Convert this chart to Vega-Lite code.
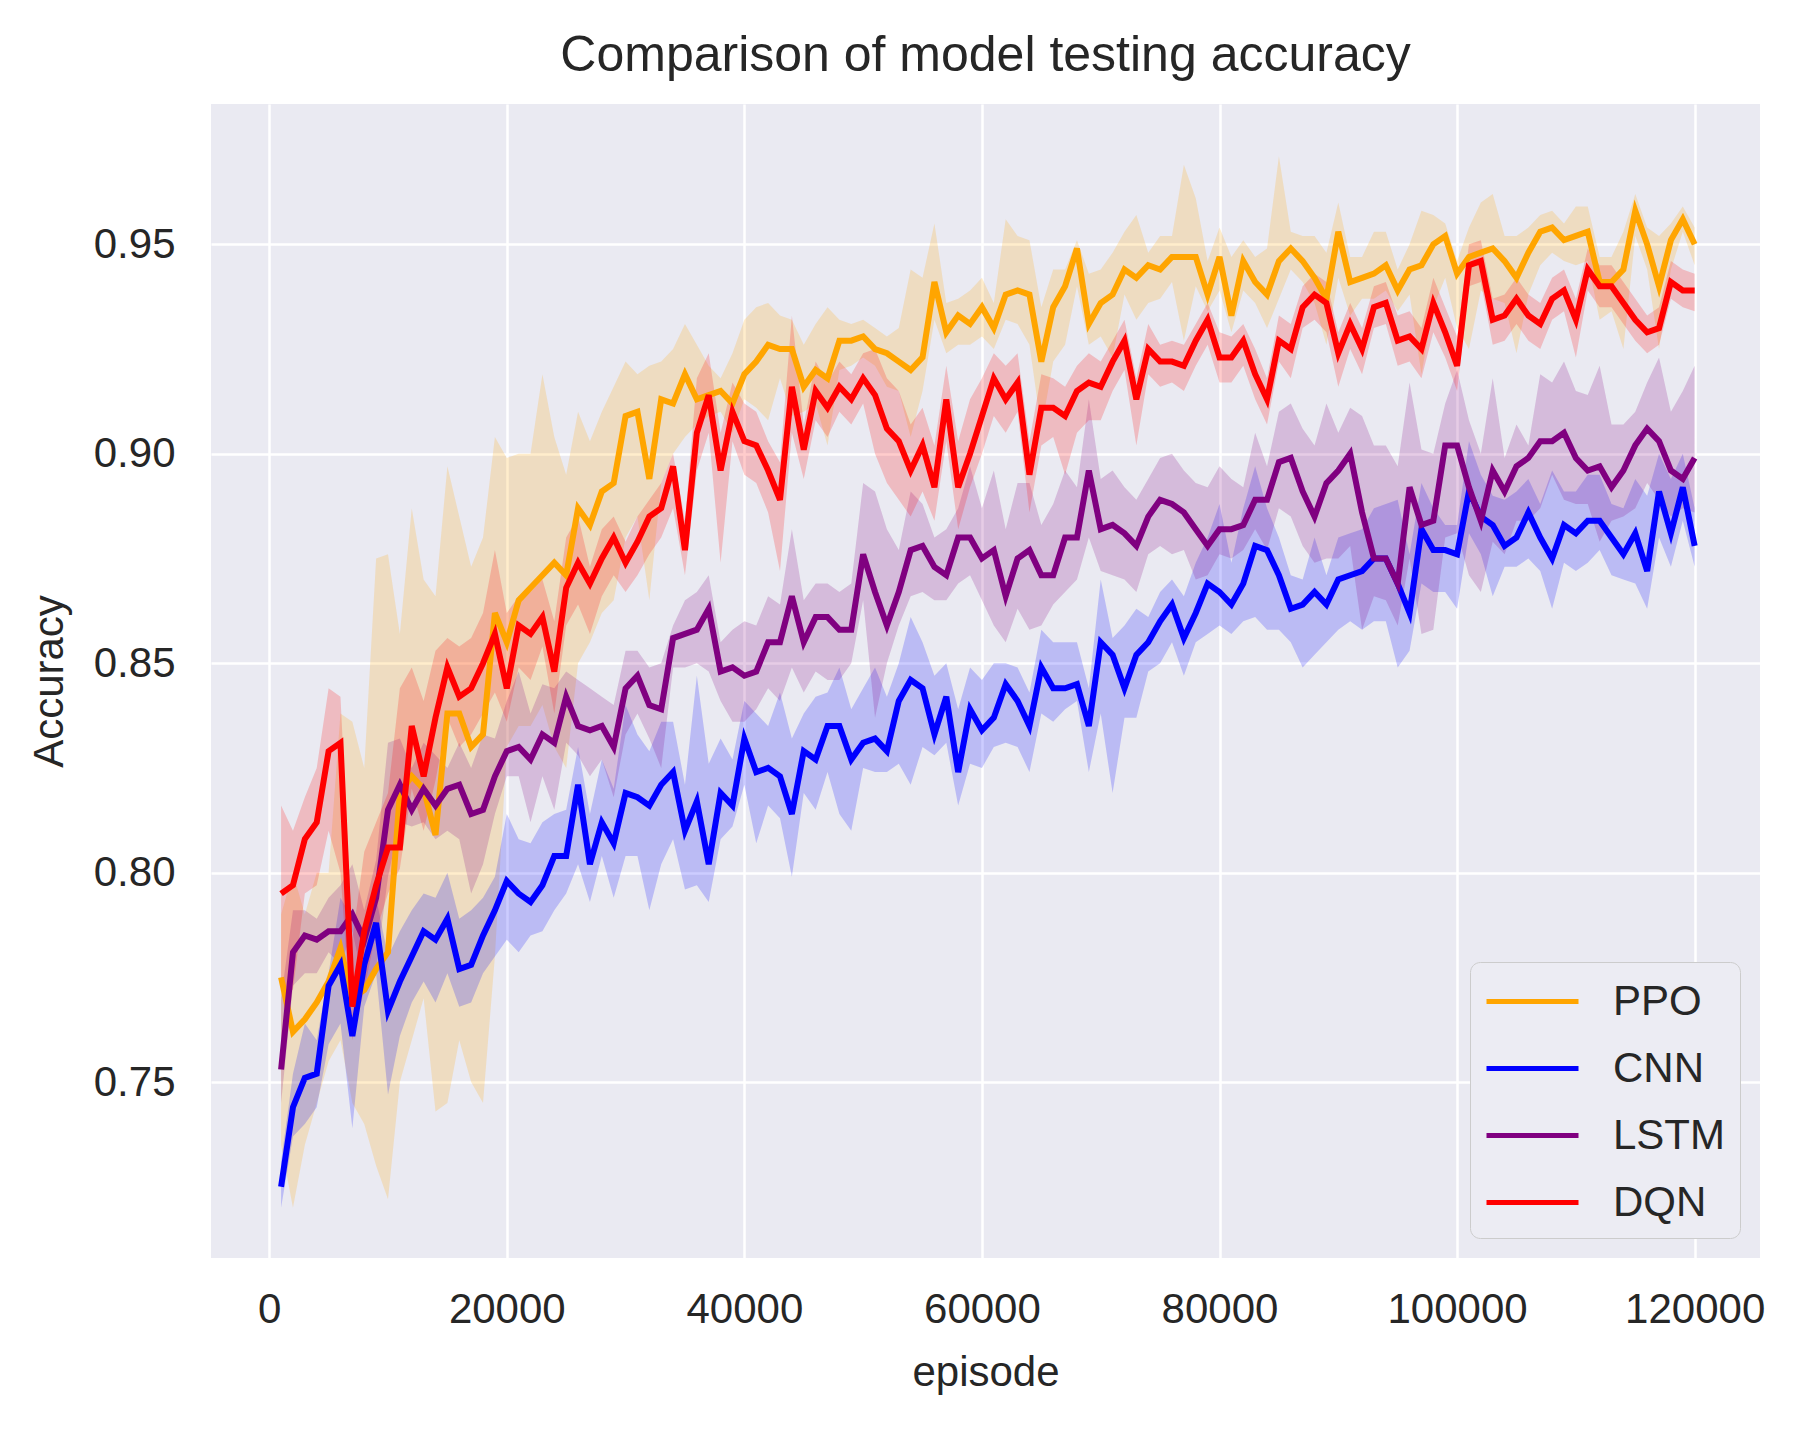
{
"$schema":"https://vega.github.io/schema/vega-lite/v6.json",
"width":1549,"height":1154,
"autosize":{"type":"none"},
"padding":{"left":211,"top":104,"right":37,"bottom":172},
"background":"white",
"title":{"text":"Comparison of model testing accuracy","font":"Liberation Sans","fontSize":50,"fontWeight":"normal","color":"#262626","anchor":"middle","baseline":"alphabetic","offset":-17},
"config":{
"view":{"fill":"#EAEAF2","stroke":null},
"axis":{"domain":false,"ticks":false,"tickSize":0,"gridColor":"#FFFFFF","gridWidth":2.5,"gridOpacity":1,"labelFont":"Liberation Sans","labelFontSize":42,"labelColor":"#262626","titleFont":"Liberation Sans","titleFontSize":42,"titleFontWeight":"normal","titleColor":"#262626"}
},
"datasets":{"d":[
{"e":1000,"m":"PPO","y":0.775,"lo":0.735,"hi":0.790},
{"e":2000,"m":"PPO","y":0.762,"lo":0.720,"hi":0.800},
{"e":3000,"m":"PPO","y":0.765,"lo":0.735,"hi":0.790},
{"e":4000,"m":"PPO","y":0.769,"lo":0.745,"hi":0.800},
{"e":5000,"m":"PPO","y":0.774,"lo":0.755,"hi":0.800},
{"e":6000,"m":"PPO","y":0.782,"lo":0.760,"hi":0.838},
{"e":7000,"m":"PPO","y":0.770,"lo":0.745,"hi":0.836},
{"e":8000,"m":"PPO","y":0.772,"lo":0.740,"hi":0.825},
{"e":9000,"m":"PPO","y":0.777,"lo":0.730,"hi":0.875},
{"e":10000,"m":"PPO","y":0.781,"lo":0.722,"hi":0.876},
{"e":11000,"m":"PPO","y":0.819,"lo":0.750,"hi":0.857},
{"e":12000,"m":"PPO","y":0.823,"lo":0.760,"hi":0.887},
{"e":13000,"m":"PPO","y":0.820,"lo":0.770,"hi":0.870},
{"e":14000,"m":"PPO","y":0.809,"lo":0.743,"hi":0.866},
{"e":15000,"m":"PPO","y":0.838,"lo":0.745,"hi":0.897},
{"e":16000,"m":"PPO","y":0.838,"lo":0.760,"hi":0.885},
{"e":17000,"m":"PPO","y":0.830,"lo":0.750,"hi":0.873},
{"e":18000,"m":"PPO","y":0.833,"lo":0.745,"hi":0.880},
{"e":19000,"m":"PPO","y":0.862,"lo":0.780,"hi":0.904},
{"e":20000,"m":"PPO","y":0.855,"lo":0.830,"hi":0.899},
{"e":21000,"m":"PPO","y":0.865,"lo":0.835,"hi":0.900},
{"e":22000,"m":"PPO","y":0.868,"lo":0.835,"hi":0.900},
{"e":23000,"m":"PPO","y":0.871,"lo":0.840,"hi":0.919},
{"e":24000,"m":"PPO","y":0.874,"lo":0.830,"hi":0.904},
{"e":25000,"m":"PPO","y":0.871,"lo":0.825,"hi":0.895},
{"e":26000,"m":"PPO","y":0.887,"lo":0.850,"hi":0.910},
{"e":27000,"m":"PPO","y":0.883,"lo":0.855,"hi":0.903},
{"e":28000,"m":"PPO","y":0.891,"lo":0.862,"hi":0.910},
{"e":29000,"m":"PPO","y":0.893,"lo":0.865,"hi":0.916},
{"e":30000,"m":"PPO","y":0.909,"lo":0.880,"hi":0.922},
{"e":31000,"m":"PPO","y":0.910,"lo":0.885,"hi":0.919},
{"e":32000,"m":"PPO","y":0.894,"lo":0.865,"hi":0.921},
{"e":33000,"m":"PPO","y":0.913,"lo":0.893,"hi":0.922},
{"e":34000,"m":"PPO","y":0.912,"lo":0.900,"hi":0.925},
{"e":35000,"m":"PPO","y":0.919,"lo":0.904,"hi":0.931},
{"e":36000,"m":"PPO","y":0.913,"lo":0.907,"hi":0.926},
{"e":37000,"m":"PPO","y":0.914,"lo":0.909,"hi":0.921},
{"e":38000,"m":"PPO","y":0.915,"lo":0.910,"hi":0.918},
{"e":39000,"m":"PPO","y":0.912,"lo":0.905,"hi":0.924},
{"e":40000,"m":"PPO","y":0.919,"lo":0.913,"hi":0.932},
{"e":41000,"m":"PPO","y":0.922,"lo":0.911,"hi":0.935},
{"e":42000,"m":"PPO","y":0.926,"lo":0.908,"hi":0.936},
{"e":43000,"m":"PPO","y":0.925,"lo":0.918,"hi":0.933},
{"e":44000,"m":"PPO","y":0.925,"lo":0.909,"hi":0.932},
{"e":45000,"m":"PPO","y":0.916,"lo":0.910,"hi":0.926},
{"e":46000,"m":"PPO","y":0.920,"lo":0.912,"hi":0.931},
{"e":47000,"m":"PPO","y":0.918,"lo":0.902,"hi":0.935},
{"e":48000,"m":"PPO","y":0.927,"lo":0.920,"hi":0.932},
{"e":49000,"m":"PPO","y":0.927,"lo":0.921,"hi":0.931},
{"e":50000,"m":"PPO","y":0.928,"lo":0.923,"hi":0.932},
{"e":51000,"m":"PPO","y":0.925,"lo":0.921,"hi":0.930},
{"e":52000,"m":"PPO","y":0.924,"lo":0.916,"hi":0.928},
{"e":53000,"m":"PPO","y":0.922,"lo":0.915,"hi":0.930},
{"e":54000,"m":"PPO","y":0.920,"lo":0.904,"hi":0.944},
{"e":55000,"m":"PPO","y":0.923,"lo":0.915,"hi":0.942},
{"e":56000,"m":"PPO","y":0.941,"lo":0.932,"hi":0.955},
{"e":57000,"m":"PPO","y":0.929,"lo":0.924,"hi":0.936},
{"e":58000,"m":"PPO","y":0.933,"lo":0.926,"hi":0.937},
{"e":59000,"m":"PPO","y":0.931,"lo":0.926,"hi":0.939},
{"e":60000,"m":"PPO","y":0.935,"lo":0.928,"hi":0.942},
{"e":61000,"m":"PPO","y":0.930,"lo":0.925,"hi":0.936},
{"e":62000,"m":"PPO","y":0.938,"lo":0.932,"hi":0.956},
{"e":63000,"m":"PPO","y":0.939,"lo":0.931,"hi":0.952},
{"e":64000,"m":"PPO","y":0.938,"lo":0.926,"hi":0.951},
{"e":65000,"m":"PPO","y":0.922,"lo":0.906,"hi":0.935},
{"e":66000,"m":"PPO","y":0.935,"lo":0.922,"hi":0.944},
{"e":67000,"m":"PPO","y":0.940,"lo":0.926,"hi":0.944},
{"e":68000,"m":"PPO","y":0.949,"lo":0.940,"hi":0.951},
{"e":69000,"m":"PPO","y":0.931,"lo":0.926,"hi":0.943},
{"e":70000,"m":"PPO","y":0.936,"lo":0.928,"hi":0.944},
{"e":71000,"m":"PPO","y":0.938,"lo":0.923,"hi":0.948},
{"e":72000,"m":"PPO","y":0.944,"lo":0.938,"hi":0.953},
{"e":73000,"m":"PPO","y":0.942,"lo":0.932,"hi":0.957},
{"e":74000,"m":"PPO","y":0.945,"lo":0.936,"hi":0.948},
{"e":75000,"m":"PPO","y":0.944,"lo":0.937,"hi":0.952},
{"e":76000,"m":"PPO","y":0.947,"lo":0.941,"hi":0.952},
{"e":77000,"m":"PPO","y":0.947,"lo":0.927,"hi":0.969},
{"e":78000,"m":"PPO","y":0.947,"lo":0.940,"hi":0.961},
{"e":79000,"m":"PPO","y":0.938,"lo":0.934,"hi":0.946},
{"e":80000,"m":"PPO","y":0.947,"lo":0.939,"hi":0.954},
{"e":81000,"m":"PPO","y":0.933,"lo":0.929,"hi":0.947},
{"e":82000,"m":"PPO","y":0.946,"lo":0.939,"hi":0.951},
{"e":83000,"m":"PPO","y":0.941,"lo":0.936,"hi":0.947},
{"e":84000,"m":"PPO","y":0.938,"lo":0.930,"hi":0.949},
{"e":85000,"m":"PPO","y":0.946,"lo":0.937,"hi":0.971},
{"e":86000,"m":"PPO","y":0.949,"lo":0.944,"hi":0.953},
{"e":87000,"m":"PPO","y":0.946,"lo":0.941,"hi":0.952},
{"e":88000,"m":"PPO","y":0.942,"lo":0.936,"hi":0.952},
{"e":89000,"m":"PPO","y":0.937,"lo":0.926,"hi":0.948},
{"e":90000,"m":"PPO","y":0.953,"lo":0.942,"hi":0.960},
{"e":91000,"m":"PPO","y":0.941,"lo":0.933,"hi":0.947},
{"e":92000,"m":"PPO","y":0.942,"lo":0.937,"hi":0.947},
{"e":93000,"m":"PPO","y":0.943,"lo":0.937,"hi":0.953},
{"e":94000,"m":"PPO","y":0.945,"lo":0.939,"hi":0.953},
{"e":95000,"m":"PPO","y":0.939,"lo":0.934,"hi":0.944},
{"e":96000,"m":"PPO","y":0.944,"lo":0.938,"hi":0.950},
{"e":97000,"m":"PPO","y":0.945,"lo":0.919,"hi":0.958},
{"e":98000,"m":"PPO","y":0.950,"lo":0.935,"hi":0.957},
{"e":99000,"m":"PPO","y":0.952,"lo":0.942,"hi":0.955},
{"e":100000,"m":"PPO","y":0.943,"lo":0.930,"hi":0.946},
{"e":101000,"m":"PPO","y":0.947,"lo":0.925,"hi":0.954},
{"e":102000,"m":"PPO","y":0.948,"lo":0.939,"hi":0.960},
{"e":103000,"m":"PPO","y":0.949,"lo":0.937,"hi":0.962},
{"e":104000,"m":"PPO","y":0.946,"lo":0.936,"hi":0.952},
{"e":105000,"m":"PPO","y":0.942,"lo":0.924,"hi":0.952},
{"e":106000,"m":"PPO","y":0.948,"lo":0.938,"hi":0.954},
{"e":107000,"m":"PPO","y":0.953,"lo":0.945,"hi":0.957},
{"e":108000,"m":"PPO","y":0.954,"lo":0.948,"hi":0.958},
{"e":109000,"m":"PPO","y":0.951,"lo":0.946,"hi":0.955},
{"e":110000,"m":"PPO","y":0.952,"lo":0.945,"hi":0.959},
{"e":111000,"m":"PPO","y":0.953,"lo":0.946,"hi":0.959},
{"e":112000,"m":"PPO","y":0.941,"lo":0.932,"hi":0.947},
{"e":113000,"m":"PPO","y":0.941,"lo":0.934,"hi":0.947},
{"e":114000,"m":"PPO","y":0.944,"lo":0.925,"hi":0.953},
{"e":115000,"m":"PPO","y":0.958,"lo":0.952,"hi":0.962},
{"e":116000,"m":"PPO","y":0.950,"lo":0.944,"hi":0.954},
{"e":117000,"m":"PPO","y":0.940,"lo":0.925,"hi":0.952},
{"e":118000,"m":"PPO","y":0.951,"lo":0.944,"hi":0.955},
{"e":119000,"m":"PPO","y":0.956,"lo":0.953,"hi":0.959},
{"e":120000,"m":"PPO","y":0.950,"lo":0.945,"hi":0.954},
{"e":1000,"m":"CNN","y":0.725,"lo":0.720,"hi":0.731},
{"e":2000,"m":"CNN","y":0.744,"lo":0.737,"hi":0.752},
{"e":3000,"m":"CNN","y":0.751,"lo":0.740,"hi":0.764},
{"e":4000,"m":"CNN","y":0.752,"lo":0.744,"hi":0.760},
{"e":5000,"m":"CNN","y":0.773,"lo":0.759,"hi":0.776},
{"e":6000,"m":"CNN","y":0.778,"lo":0.764,"hi":0.794},
{"e":7000,"m":"CNN","y":0.761,"lo":0.739,"hi":0.789},
{"e":8000,"m":"CNN","y":0.778,"lo":0.768,"hi":0.786},
{"e":9000,"m":"CNN","y":0.788,"lo":0.776,"hi":0.794},
{"e":10000,"m":"CNN","y":0.767,"lo":0.747,"hi":0.780},
{"e":11000,"m":"CNN","y":0.774,"lo":0.761,"hi":0.786},
{"e":12000,"m":"CNN","y":0.780,"lo":0.769,"hi":0.791},
{"e":13000,"m":"CNN","y":0.786,"lo":0.774,"hi":0.795},
{"e":14000,"m":"CNN","y":0.784,"lo":0.769,"hi":0.794},
{"e":15000,"m":"CNN","y":0.789,"lo":0.776,"hi":0.800},
{"e":16000,"m":"CNN","y":0.777,"lo":0.768,"hi":0.789},
{"e":17000,"m":"CNN","y":0.778,"lo":0.769,"hi":0.791},
{"e":18000,"m":"CNN","y":0.785,"lo":0.776,"hi":0.794},
{"e":19000,"m":"CNN","y":0.791,"lo":0.780,"hi":0.799},
{"e":20000,"m":"CNN","y":0.798,"lo":0.784,"hi":0.814},
{"e":21000,"m":"CNN","y":0.795,"lo":0.781,"hi":0.808},
{"e":22000,"m":"CNN","y":0.793,"lo":0.785,"hi":0.807},
{"e":23000,"m":"CNN","y":0.797,"lo":0.786,"hi":0.812},
{"e":24000,"m":"CNN","y":0.804,"lo":0.791,"hi":0.814},
{"e":25000,"m":"CNN","y":0.804,"lo":0.795,"hi":0.815},
{"e":26000,"m":"CNN","y":0.821,"lo":0.802,"hi":0.830},
{"e":27000,"m":"CNN","y":0.802,"lo":0.793,"hi":0.814},
{"e":28000,"m":"CNN","y":0.812,"lo":0.804,"hi":0.827},
{"e":29000,"m":"CNN","y":0.807,"lo":0.794,"hi":0.820},
{"e":30000,"m":"CNN","y":0.819,"lo":0.804,"hi":0.840},
{"e":31000,"m":"CNN","y":0.818,"lo":0.804,"hi":0.833},
{"e":32000,"m":"CNN","y":0.816,"lo":0.791,"hi":0.829},
{"e":33000,"m":"CNN","y":0.821,"lo":0.802,"hi":0.836},
{"e":34000,"m":"CNN","y":0.824,"lo":0.808,"hi":0.836},
{"e":35000,"m":"CNN","y":0.810,"lo":0.796,"hi":0.821},
{"e":36000,"m":"CNN","y":0.817,"lo":0.797,"hi":0.847},
{"e":37000,"m":"CNN","y":0.802,"lo":0.793,"hi":0.826},
{"e":38000,"m":"CNN","y":0.819,"lo":0.808,"hi":0.832},
{"e":39000,"m":"CNN","y":0.816,"lo":0.811,"hi":0.827},
{"e":40000,"m":"CNN","y":0.832,"lo":0.821,"hi":0.841},
{"e":41000,"m":"CNN","y":0.824,"lo":0.807,"hi":0.838},
{"e":42000,"m":"CNN","y":0.825,"lo":0.816,"hi":0.835},
{"e":43000,"m":"CNN","y":0.823,"lo":0.813,"hi":0.843},
{"e":44000,"m":"CNN","y":0.814,"lo":0.799,"hi":0.832},
{"e":45000,"m":"CNN","y":0.829,"lo":0.819,"hi":0.838},
{"e":46000,"m":"CNN","y":0.827,"lo":0.815,"hi":0.842},
{"e":47000,"m":"CNN","y":0.835,"lo":0.824,"hi":0.843},
{"e":48000,"m":"CNN","y":0.835,"lo":0.814,"hi":0.849},
{"e":49000,"m":"CNN","y":0.827,"lo":0.810,"hi":0.839},
{"e":50000,"m":"CNN","y":0.831,"lo":0.825,"hi":0.844},
{"e":51000,"m":"CNN","y":0.832,"lo":0.824,"hi":0.849},
{"e":52000,"m":"CNN","y":0.829,"lo":0.824,"hi":0.842},
{"e":53000,"m":"CNN","y":0.841,"lo":0.826,"hi":0.850},
{"e":54000,"m":"CNN","y":0.846,"lo":0.821,"hi":0.861},
{"e":55000,"m":"CNN","y":0.844,"lo":0.830,"hi":0.855},
{"e":56000,"m":"CNN","y":0.833,"lo":0.828,"hi":0.847},
{"e":57000,"m":"CNN","y":0.842,"lo":0.831,"hi":0.850},
{"e":58000,"m":"CNN","y":0.824,"lo":0.816,"hi":0.839},
{"e":59000,"m":"CNN","y":0.839,"lo":0.826,"hi":0.849},
{"e":60000,"m":"CNN","y":0.834,"lo":0.825,"hi":0.846},
{"e":61000,"m":"CNN","y":0.837,"lo":0.830,"hi":0.850},
{"e":62000,"m":"CNN","y":0.845,"lo":0.831,"hi":0.850},
{"e":63000,"m":"CNN","y":0.841,"lo":0.830,"hi":0.849},
{"e":64000,"m":"CNN","y":0.835,"lo":0.824,"hi":0.843},
{"e":65000,"m":"CNN","y":0.849,"lo":0.838,"hi":0.858},
{"e":66000,"m":"CNN","y":0.844,"lo":0.836,"hi":0.855},
{"e":67000,"m":"CNN","y":0.844,"lo":0.839,"hi":0.855},
{"e":68000,"m":"CNN","y":0.845,"lo":0.841,"hi":0.855},
{"e":69000,"m":"CNN","y":0.835,"lo":0.824,"hi":0.844},
{"e":70000,"m":"CNN","y":0.855,"lo":0.838,"hi":0.870},
{"e":71000,"m":"CNN","y":0.852,"lo":0.819,"hi":0.856},
{"e":72000,"m":"CNN","y":0.844,"lo":0.837,"hi":0.859},
{"e":73000,"m":"CNN","y":0.852,"lo":0.837,"hi":0.863},
{"e":74000,"m":"CNN","y":0.855,"lo":0.848,"hi":0.861},
{"e":75000,"m":"CNN","y":0.860,"lo":0.850,"hi":0.867},
{"e":76000,"m":"CNN","y":0.864,"lo":0.855,"hi":0.870},
{"e":77000,"m":"CNN","y":0.856,"lo":0.847,"hi":0.866},
{"e":78000,"m":"CNN","y":0.862,"lo":0.855,"hi":0.874},
{"e":79000,"m":"CNN","y":0.869,"lo":0.857,"hi":0.880},
{"e":80000,"m":"CNN","y":0.867,"lo":0.859,"hi":0.888},
{"e":81000,"m":"CNN","y":0.864,"lo":0.857,"hi":0.874},
{"e":82000,"m":"CNN","y":0.869,"lo":0.860,"hi":0.887},
{"e":83000,"m":"CNN","y":0.878,"lo":0.861,"hi":0.897},
{"e":84000,"m":"CNN","y":0.877,"lo":0.858,"hi":0.887},
{"e":85000,"m":"CNN","y":0.871,"lo":0.858,"hi":0.880},
{"e":86000,"m":"CNN","y":0.863,"lo":0.855,"hi":0.871},
{"e":87000,"m":"CNN","y":0.864,"lo":0.849,"hi":0.870},
{"e":88000,"m":"CNN","y":0.867,"lo":0.852,"hi":0.880},
{"e":89000,"m":"CNN","y":0.864,"lo":0.855,"hi":0.871},
{"e":90000,"m":"CNN","y":0.870,"lo":0.858,"hi":0.880},
{"e":91000,"m":"CNN","y":0.871,"lo":0.860,"hi":0.881},
{"e":92000,"m":"CNN","y":0.872,"lo":0.858,"hi":0.882},
{"e":93000,"m":"CNN","y":0.875,"lo":0.860,"hi":0.887},
{"e":94000,"m":"CNN","y":0.875,"lo":0.860,"hi":0.888},
{"e":95000,"m":"CNN","y":0.869,"lo":0.849,"hi":0.889},
{"e":96000,"m":"CNN","y":0.862,"lo":0.853,"hi":0.876},
{"e":97000,"m":"CNN","y":0.882,"lo":0.869,"hi":0.893},
{"e":98000,"m":"CNN","y":0.877,"lo":0.867,"hi":0.887},
{"e":99000,"m":"CNN","y":0.877,"lo":0.867,"hi":0.883},
{"e":100000,"m":"CNN","y":0.876,"lo":0.863,"hi":0.883},
{"e":101000,"m":"CNN","y":0.891,"lo":0.881,"hi":0.903},
{"e":102000,"m":"CNN","y":0.885,"lo":0.876,"hi":0.895},
{"e":103000,"m":"CNN","y":0.883,"lo":0.866,"hi":0.890},
{"e":104000,"m":"CNN","y":0.878,"lo":0.873,"hi":0.889},
{"e":105000,"m":"CNN","y":0.880,"lo":0.873,"hi":0.891},
{"e":106000,"m":"CNN","y":0.886,"lo":0.875,"hi":0.894},
{"e":107000,"m":"CNN","y":0.880,"lo":0.872,"hi":0.888},
{"e":108000,"m":"CNN","y":0.875,"lo":0.863,"hi":0.896},
{"e":109000,"m":"CNN","y":0.883,"lo":0.874,"hi":0.891},
{"e":110000,"m":"CNN","y":0.881,"lo":0.872,"hi":0.891},
{"e":111000,"m":"CNN","y":0.884,"lo":0.874,"hi":0.895},
{"e":112000,"m":"CNN","y":0.884,"lo":0.877,"hi":0.895},
{"e":113000,"m":"CNN","y":0.880,"lo":0.871,"hi":0.888},
{"e":114000,"m":"CNN","y":0.876,"lo":0.870,"hi":0.887},
{"e":115000,"m":"CNN","y":0.881,"lo":0.869,"hi":0.894},
{"e":116000,"m":"CNN","y":0.872,"lo":0.863,"hi":0.890},
{"e":117000,"m":"CNN","y":0.891,"lo":0.880,"hi":0.900},
{"e":118000,"m":"CNN","y":0.881,"lo":0.873,"hi":0.894},
{"e":119000,"m":"CNN","y":0.892,"lo":0.884,"hi":0.900},
{"e":120000,"m":"CNN","y":0.878,"lo":0.873,"hi":0.887},
{"e":1000,"m":"LSTM","y":0.753,"lo":0.745,"hi":0.770},
{"e":2000,"m":"LSTM","y":0.781,"lo":0.773,"hi":0.791},
{"e":3000,"m":"LSTM","y":0.785,"lo":0.776,"hi":0.791},
{"e":4000,"m":"LSTM","y":0.784,"lo":0.776,"hi":0.789},
{"e":5000,"m":"LSTM","y":0.786,"lo":0.781,"hi":0.794},
{"e":6000,"m":"LSTM","y":0.786,"lo":0.778,"hi":0.797},
{"e":7000,"m":"LSTM","y":0.790,"lo":0.786,"hi":0.802},
{"e":8000,"m":"LSTM","y":0.784,"lo":0.773,"hi":0.791},
{"e":9000,"m":"LSTM","y":0.794,"lo":0.777,"hi":0.803},
{"e":10000,"m":"LSTM","y":0.815,"lo":0.799,"hi":0.831},
{"e":11000,"m":"LSTM","y":0.821,"lo":0.812,"hi":0.832},
{"e":12000,"m":"LSTM","y":0.815,"lo":0.811,"hi":0.825},
{"e":13000,"m":"LSTM","y":0.820,"lo":0.812,"hi":0.831},
{"e":14000,"m":"LSTM","y":0.816,"lo":0.808,"hi":0.828},
{"e":15000,"m":"LSTM","y":0.820,"lo":0.810,"hi":0.825},
{"e":16000,"m":"LSTM","y":0.821,"lo":0.808,"hi":0.831},
{"e":17000,"m":"LSTM","y":0.814,"lo":0.795,"hi":0.825},
{"e":18000,"m":"LSTM","y":0.815,"lo":0.802,"hi":0.833},
{"e":19000,"m":"LSTM","y":0.823,"lo":0.814,"hi":0.832},
{"e":20000,"m":"LSTM","y":0.829,"lo":0.823,"hi":0.841},
{"e":21000,"m":"LSTM","y":0.830,"lo":0.823,"hi":0.848},
{"e":22000,"m":"LSTM","y":0.827,"lo":0.812,"hi":0.838},
{"e":23000,"m":"LSTM","y":0.833,"lo":0.823,"hi":0.845},
{"e":24000,"m":"LSTM","y":0.831,"lo":0.815,"hi":0.844},
{"e":25000,"m":"LSTM","y":0.842,"lo":0.831,"hi":0.848},
{"e":26000,"m":"LSTM","y":0.835,"lo":0.828,"hi":0.846},
{"e":27000,"m":"LSTM","y":0.834,"lo":0.823,"hi":0.844},
{"e":28000,"m":"LSTM","y":0.835,"lo":0.827,"hi":0.842},
{"e":29000,"m":"LSTM","y":0.830,"lo":0.818,"hi":0.840},
{"e":30000,"m":"LSTM","y":0.844,"lo":0.833,"hi":0.853},
{"e":31000,"m":"LSTM","y":0.847,"lo":0.838,"hi":0.853},
{"e":32000,"m":"LSTM","y":0.840,"lo":0.832,"hi":0.849},
{"e":33000,"m":"LSTM","y":0.839,"lo":0.825,"hi":0.850},
{"e":34000,"m":"LSTM","y":0.856,"lo":0.849,"hi":0.859},
{"e":35000,"m":"LSTM","y":0.857,"lo":0.849,"hi":0.865},
{"e":36000,"m":"LSTM","y":0.858,"lo":0.850,"hi":0.867},
{"e":37000,"m":"LSTM","y":0.863,"lo":0.848,"hi":0.871},
{"e":38000,"m":"LSTM","y":0.848,"lo":0.841,"hi":0.855},
{"e":39000,"m":"LSTM","y":0.849,"lo":0.836,"hi":0.858},
{"e":40000,"m":"LSTM","y":0.847,"lo":0.836,"hi":0.860},
{"e":41000,"m":"LSTM","y":0.848,"lo":0.839,"hi":0.859},
{"e":42000,"m":"LSTM","y":0.855,"lo":0.844,"hi":0.866},
{"e":43000,"m":"LSTM","y":0.855,"lo":0.841,"hi":0.864},
{"e":44000,"m":"LSTM","y":0.866,"lo":0.849,"hi":0.882},
{"e":45000,"m":"LSTM","y":0.855,"lo":0.843,"hi":0.865},
{"e":46000,"m":"LSTM","y":0.861,"lo":0.848,"hi":0.869},
{"e":47000,"m":"LSTM","y":0.861,"lo":0.846,"hi":0.869},
{"e":48000,"m":"LSTM","y":0.858,"lo":0.846,"hi":0.867},
{"e":49000,"m":"LSTM","y":0.858,"lo":0.850,"hi":0.869},
{"e":50000,"m":"LSTM","y":0.876,"lo":0.865,"hi":0.893},
{"e":51000,"m":"LSTM","y":0.867,"lo":0.837,"hi":0.891},
{"e":52000,"m":"LSTM","y":0.859,"lo":0.850,"hi":0.882},
{"e":53000,"m":"LSTM","y":0.867,"lo":0.859,"hi":0.877},
{"e":54000,"m":"LSTM","y":0.877,"lo":0.866,"hi":0.891},
{"e":55000,"m":"LSTM","y":0.878,"lo":0.867,"hi":0.888},
{"e":56000,"m":"LSTM","y":0.873,"lo":0.865,"hi":0.880},
{"e":57000,"m":"LSTM","y":0.871,"lo":0.865,"hi":0.882},
{"e":58000,"m":"LSTM","y":0.880,"lo":0.869,"hi":0.887},
{"e":59000,"m":"LSTM","y":0.880,"lo":0.871,"hi":0.897},
{"e":60000,"m":"LSTM","y":0.875,"lo":0.865,"hi":0.887},
{"e":61000,"m":"LSTM","y":0.877,"lo":0.859,"hi":0.896},
{"e":62000,"m":"LSTM","y":0.866,"lo":0.855,"hi":0.882},
{"e":63000,"m":"LSTM","y":0.875,"lo":0.863,"hi":0.893},
{"e":64000,"m":"LSTM","y":0.877,"lo":0.858,"hi":0.893},
{"e":65000,"m":"LSTM","y":0.871,"lo":0.859,"hi":0.883},
{"e":66000,"m":"LSTM","y":0.871,"lo":0.864,"hi":0.888},
{"e":67000,"m":"LSTM","y":0.880,"lo":0.867,"hi":0.896},
{"e":68000,"m":"LSTM","y":0.880,"lo":0.870,"hi":0.892},
{"e":69000,"m":"LSTM","y":0.896,"lo":0.880,"hi":0.913},
{"e":70000,"m":"LSTM","y":0.882,"lo":0.872,"hi":0.894},
{"e":71000,"m":"LSTM","y":0.883,"lo":0.871,"hi":0.896},
{"e":72000,"m":"LSTM","y":0.881,"lo":0.870,"hi":0.892},
{"e":73000,"m":"LSTM","y":0.878,"lo":0.867,"hi":0.889},
{"e":74000,"m":"LSTM","y":0.885,"lo":0.876,"hi":0.894},
{"e":75000,"m":"LSTM","y":0.889,"lo":0.878,"hi":0.899},
{"e":76000,"m":"LSTM","y":0.888,"lo":0.876,"hi":0.900},
{"e":77000,"m":"LSTM","y":0.886,"lo":0.877,"hi":0.896},
{"e":78000,"m":"LSTM","y":0.882,"lo":0.870,"hi":0.893},
{"e":79000,"m":"LSTM","y":0.878,"lo":0.871,"hi":0.892},
{"e":80000,"m":"LSTM","y":0.882,"lo":0.876,"hi":0.897},
{"e":81000,"m":"LSTM","y":0.882,"lo":0.875,"hi":0.894},
{"e":82000,"m":"LSTM","y":0.883,"lo":0.877,"hi":0.892},
{"e":83000,"m":"LSTM","y":0.889,"lo":0.882,"hi":0.905},
{"e":84000,"m":"LSTM","y":0.889,"lo":0.877,"hi":0.897},
{"e":85000,"m":"LSTM","y":0.898,"lo":0.887,"hi":0.910},
{"e":86000,"m":"LSTM","y":0.899,"lo":0.885,"hi":0.912},
{"e":87000,"m":"LSTM","y":0.891,"lo":0.878,"hi":0.906},
{"e":88000,"m":"LSTM","y":0.885,"lo":0.874,"hi":0.902},
{"e":89000,"m":"LSTM","y":0.893,"lo":0.875,"hi":0.912},
{"e":90000,"m":"LSTM","y":0.896,"lo":0.875,"hi":0.905},
{"e":91000,"m":"LSTM","y":0.900,"lo":0.878,"hi":0.911},
{"e":92000,"m":"LSTM","y":0.886,"lo":0.858,"hi":0.909},
{"e":93000,"m":"LSTM","y":0.875,"lo":0.866,"hi":0.902},
{"e":94000,"m":"LSTM","y":0.875,"lo":0.865,"hi":0.902},
{"e":95000,"m":"LSTM","y":0.869,"lo":0.859,"hi":0.897},
{"e":96000,"m":"LSTM","y":0.892,"lo":0.875,"hi":0.917},
{"e":97000,"m":"LSTM","y":0.883,"lo":0.857,"hi":0.901},
{"e":98000,"m":"LSTM","y":0.884,"lo":0.858,"hi":0.900},
{"e":99000,"m":"LSTM","y":0.902,"lo":0.880,"hi":0.912},
{"e":100000,"m":"LSTM","y":0.902,"lo":0.881,"hi":0.920},
{"e":101000,"m":"LSTM","y":0.892,"lo":0.871,"hi":0.908},
{"e":102000,"m":"LSTM","y":0.884,"lo":0.867,"hi":0.900},
{"e":103000,"m":"LSTM","y":0.896,"lo":0.879,"hi":0.918},
{"e":104000,"m":"LSTM","y":0.891,"lo":0.876,"hi":0.899},
{"e":105000,"m":"LSTM","y":0.897,"lo":0.884,"hi":0.907},
{"e":106000,"m":"LSTM","y":0.899,"lo":0.884,"hi":0.902},
{"e":107000,"m":"LSTM","y":0.903,"lo":0.887,"hi":0.919},
{"e":108000,"m":"LSTM","y":0.903,"lo":0.895,"hi":0.917},
{"e":109000,"m":"LSTM","y":0.905,"lo":0.889,"hi":0.922},
{"e":110000,"m":"LSTM","y":0.899,"lo":0.888,"hi":0.915},
{"e":111000,"m":"LSTM","y":0.896,"lo":0.888,"hi":0.914},
{"e":112000,"m":"LSTM","y":0.897,"lo":0.879,"hi":0.921},
{"e":113000,"m":"LSTM","y":0.892,"lo":0.884,"hi":0.907},
{"e":114000,"m":"LSTM","y":0.896,"lo":0.885,"hi":0.907},
{"e":115000,"m":"LSTM","y":0.902,"lo":0.887,"hi":0.910},
{"e":116000,"m":"LSTM","y":0.906,"lo":0.893,"hi":0.917},
{"e":117000,"m":"LSTM","y":0.903,"lo":0.889,"hi":0.923},
{"e":118000,"m":"LSTM","y":0.896,"lo":0.885,"hi":0.910},
{"e":119000,"m":"LSTM","y":0.894,"lo":0.887,"hi":0.915},
{"e":120000,"m":"LSTM","y":0.899,"lo":0.886,"hi":0.921},
{"e":1000,"m":"DQN","y":0.795,"lo":0.773,"hi":0.816},
{"e":2000,"m":"DQN","y":0.797,"lo":0.772,"hi":0.810},
{"e":3000,"m":"DQN","y":0.808,"lo":0.795,"hi":0.818},
{"e":4000,"m":"DQN","y":0.812,"lo":0.797,"hi":0.825},
{"e":5000,"m":"DQN","y":0.829,"lo":0.810,"hi":0.844},
{"e":6000,"m":"DQN","y":0.831,"lo":0.800,"hi":0.842},
{"e":7000,"m":"DQN","y":0.768,"lo":0.760,"hi":0.784},
{"e":8000,"m":"DQN","y":0.786,"lo":0.772,"hi":0.805},
{"e":9000,"m":"DQN","y":0.797,"lo":0.786,"hi":0.812},
{"e":10000,"m":"DQN","y":0.806,"lo":0.795,"hi":0.819},
{"e":11000,"m":"DQN","y":0.806,"lo":0.801,"hi":0.844},
{"e":12000,"m":"DQN","y":0.835,"lo":0.820,"hi":0.849},
{"e":13000,"m":"DQN","y":0.823,"lo":0.810,"hi":0.841},
{"e":14000,"m":"DQN","y":0.837,"lo":0.822,"hi":0.853},
{"e":15000,"m":"DQN","y":0.849,"lo":0.837,"hi":0.856},
{"e":16000,"m":"DQN","y":0.842,"lo":0.830,"hi":0.854},
{"e":17000,"m":"DQN","y":0.844,"lo":0.833,"hi":0.856},
{"e":18000,"m":"DQN","y":0.850,"lo":0.838,"hi":0.862},
{"e":19000,"m":"DQN","y":0.857,"lo":0.843,"hi":0.877},
{"e":20000,"m":"DQN","y":0.844,"lo":0.836,"hi":0.862},
{"e":21000,"m":"DQN","y":0.859,"lo":0.849,"hi":0.866},
{"e":22000,"m":"DQN","y":0.857,"lo":0.846,"hi":0.867},
{"e":23000,"m":"DQN","y":0.861,"lo":0.854,"hi":0.870},
{"e":24000,"m":"DQN","y":0.848,"lo":0.838,"hi":0.860},
{"e":25000,"m":"DQN","y":0.868,"lo":0.859,"hi":0.880},
{"e":26000,"m":"DQN","y":0.874,"lo":0.864,"hi":0.885},
{"e":27000,"m":"DQN","y":0.869,"lo":0.857,"hi":0.873},
{"e":28000,"m":"DQN","y":0.875,"lo":0.866,"hi":0.882},
{"e":29000,"m":"DQN","y":0.880,"lo":0.871,"hi":0.885},
{"e":30000,"m":"DQN","y":0.874,"lo":0.867,"hi":0.879},
{"e":31000,"m":"DQN","y":0.879,"lo":0.871,"hi":0.885},
{"e":32000,"m":"DQN","y":0.885,"lo":0.876,"hi":0.889},
{"e":33000,"m":"DQN","y":0.887,"lo":0.880,"hi":0.893},
{"e":34000,"m":"DQN","y":0.897,"lo":0.887,"hi":0.900},
{"e":35000,"m":"DQN","y":0.877,"lo":0.871,"hi":0.884},
{"e":36000,"m":"DQN","y":0.905,"lo":0.896,"hi":0.918},
{"e":37000,"m":"DQN","y":0.914,"lo":0.905,"hi":0.924},
{"e":38000,"m":"DQN","y":0.896,"lo":0.874,"hi":0.905},
{"e":39000,"m":"DQN","y":0.910,"lo":0.903,"hi":0.917},
{"e":40000,"m":"DQN","y":0.903,"lo":0.895,"hi":0.912},
{"e":41000,"m":"DQN","y":0.902,"lo":0.893,"hi":0.910},
{"e":42000,"m":"DQN","y":0.896,"lo":0.886,"hi":0.903},
{"e":43000,"m":"DQN","y":0.889,"lo":0.872,"hi":0.898},
{"e":44000,"m":"DQN","y":0.916,"lo":0.905,"hi":0.933},
{"e":45000,"m":"DQN","y":0.901,"lo":0.894,"hi":0.907},
{"e":46000,"m":"DQN","y":0.915,"lo":0.908,"hi":0.922},
{"e":47000,"m":"DQN","y":0.911,"lo":0.904,"hi":0.917},
{"e":48000,"m":"DQN","y":0.916,"lo":0.910,"hi":0.922},
{"e":49000,"m":"DQN","y":0.913,"lo":0.907,"hi":0.919},
{"e":50000,"m":"DQN","y":0.918,"lo":0.912,"hi":0.924},
{"e":51000,"m":"DQN","y":0.914,"lo":0.900,"hi":0.925},
{"e":52000,"m":"DQN","y":0.906,"lo":0.893,"hi":0.918},
{"e":53000,"m":"DQN","y":0.903,"lo":0.889,"hi":0.915},
{"e":54000,"m":"DQN","y":0.896,"lo":0.885,"hi":0.907},
{"e":55000,"m":"DQN","y":0.902,"lo":0.891,"hi":0.911},
{"e":56000,"m":"DQN","y":0.892,"lo":0.884,"hi":0.902},
{"e":57000,"m":"DQN","y":0.913,"lo":0.903,"hi":0.921},
{"e":58000,"m":"DQN","y":0.892,"lo":0.882,"hi":0.903},
{"e":59000,"m":"DQN","y":0.900,"lo":0.892,"hi":0.913},
{"e":60000,"m":"DQN","y":0.909,"lo":0.900,"hi":0.918},
{"e":61000,"m":"DQN","y":0.918,"lo":0.909,"hi":0.924},
{"e":62000,"m":"DQN","y":0.913,"lo":0.905,"hi":0.921},
{"e":63000,"m":"DQN","y":0.917,"lo":0.910,"hi":0.924},
{"e":64000,"m":"DQN","y":0.895,"lo":0.886,"hi":0.903},
{"e":65000,"m":"DQN","y":0.911,"lo":0.902,"hi":0.919},
{"e":66000,"m":"DQN","y":0.911,"lo":0.904,"hi":0.918},
{"e":67000,"m":"DQN","y":0.909,"lo":0.895,"hi":0.916},
{"e":68000,"m":"DQN","y":0.915,"lo":0.905,"hi":0.921},
{"e":69000,"m":"DQN","y":0.917,"lo":0.908,"hi":0.924},
{"e":70000,"m":"DQN","y":0.916,"lo":0.908,"hi":0.922},
{"e":71000,"m":"DQN","y":0.922,"lo":0.915,"hi":0.927},
{"e":72000,"m":"DQN","y":0.927,"lo":0.920,"hi":0.932},
{"e":73000,"m":"DQN","y":0.913,"lo":0.902,"hi":0.918},
{"e":74000,"m":"DQN","y":0.925,"lo":0.919,"hi":0.931},
{"e":75000,"m":"DQN","y":0.922,"lo":0.916,"hi":0.926},
{"e":76000,"m":"DQN","y":0.922,"lo":0.917,"hi":0.927},
{"e":77000,"m":"DQN","y":0.921,"lo":0.915,"hi":0.926},
{"e":78000,"m":"DQN","y":0.927,"lo":0.921,"hi":0.931},
{"e":79000,"m":"DQN","y":0.932,"lo":0.926,"hi":0.936},
{"e":80000,"m":"DQN","y":0.923,"lo":0.917,"hi":0.929},
{"e":81000,"m":"DQN","y":0.923,"lo":0.917,"hi":0.928},
{"e":82000,"m":"DQN","y":0.927,"lo":0.921,"hi":0.931},
{"e":83000,"m":"DQN","y":0.919,"lo":0.913,"hi":0.925},
{"e":84000,"m":"DQN","y":0.913,"lo":0.907,"hi":0.918},
{"e":85000,"m":"DQN","y":0.927,"lo":0.922,"hi":0.933},
{"e":86000,"m":"DQN","y":0.925,"lo":0.918,"hi":0.931},
{"e":87000,"m":"DQN","y":0.935,"lo":0.930,"hi":0.940},
{"e":88000,"m":"DQN","y":0.938,"lo":0.932,"hi":0.943},
{"e":89000,"m":"DQN","y":0.936,"lo":0.929,"hi":0.941},
{"e":90000,"m":"DQN","y":0.924,"lo":0.916,"hi":0.929},
{"e":91000,"m":"DQN","y":0.931,"lo":0.925,"hi":0.936},
{"e":92000,"m":"DQN","y":0.925,"lo":0.919,"hi":0.930},
{"e":93000,"m":"DQN","y":0.935,"lo":0.930,"hi":0.940},
{"e":94000,"m":"DQN","y":0.936,"lo":0.931,"hi":0.941},
{"e":95000,"m":"DQN","y":0.927,"lo":0.921,"hi":0.933},
{"e":96000,"m":"DQN","y":0.928,"lo":0.922,"hi":0.934},
{"e":97000,"m":"DQN","y":0.925,"lo":0.918,"hi":0.930},
{"e":98000,"m":"DQN","y":0.936,"lo":0.929,"hi":0.942},
{"e":99000,"m":"DQN","y":0.929,"lo":0.923,"hi":0.935},
{"e":100000,"m":"DQN","y":0.921,"lo":0.915,"hi":0.928},
{"e":101000,"m":"DQN","y":0.945,"lo":0.940,"hi":0.950},
{"e":102000,"m":"DQN","y":0.946,"lo":0.941,"hi":0.951},
{"e":103000,"m":"DQN","y":0.932,"lo":0.926,"hi":0.937},
{"e":104000,"m":"DQN","y":0.933,"lo":0.927,"hi":0.938},
{"e":105000,"m":"DQN","y":0.937,"lo":0.931,"hi":0.942},
{"e":106000,"m":"DQN","y":0.933,"lo":0.927,"hi":0.938},
{"e":107000,"m":"DQN","y":0.931,"lo":0.925,"hi":0.936},
{"e":108000,"m":"DQN","y":0.937,"lo":0.932,"hi":0.942},
{"e":109000,"m":"DQN","y":0.939,"lo":0.934,"hi":0.944},
{"e":110000,"m":"DQN","y":0.932,"lo":0.923,"hi":0.937},
{"e":111000,"m":"DQN","y":0.944,"lo":0.939,"hi":0.949},
{"e":112000,"m":"DQN","y":0.940,"lo":0.935,"hi":0.945},
{"e":113000,"m":"DQN","y":0.940,"lo":0.935,"hi":0.945},
{"e":114000,"m":"DQN","y":0.936,"lo":0.931,"hi":0.941},
{"e":115000,"m":"DQN","y":0.932,"lo":0.927,"hi":0.937},
{"e":116000,"m":"DQN","y":0.929,"lo":0.924,"hi":0.933},
{"e":117000,"m":"DQN","y":0.930,"lo":0.926,"hi":0.935},
{"e":118000,"m":"DQN","y":0.941,"lo":0.937,"hi":0.946},
{"e":119000,"m":"DQN","y":0.939,"lo":0.935,"hi":0.944},
{"e":120000,"m":"DQN","y":0.939,"lo":0.934,"hi":0.943}
]},
"data":{"name":"d"},
"encoding":{
"x":{"field":"e","type":"quantitative","scale":{"domain":[-4900,125500],"nice":false,"zero":false},
"axis":{"values":[0,20000,40000,60000,80000,100000,120000],"format":"d","title":"episode","labelPadding":31,"titlePadding":22,"labelFlush":false,"labelOverlap":false}},
"y":{"field":"lo","type":"quantitative","scale":{"domain":[0.708,0.9835],"nice":false,"zero":false},
"axis":{"values":[0.75,0.8,0.85,0.9,0.95],"format":".2f","title":"Accuracy","labelPadding":36,"titlePadding":22,"labelFlush":false,"labelOverlap":false}},
"y2":{"field":"hi"}
},
"layer":[
{"transform":[{"filter":"datum.m === 'PPO'"}],"mark":{"type":"area","color":"#FFA500","fillOpacity":0.2,"strokeWidth":0}},
{"transform":[{"filter":"datum.m === 'CNN'"}],"mark":{"type":"area","color":"#0000FF","fillOpacity":0.2,"strokeWidth":0}},
{"transform":[{"filter":"datum.m === 'LSTM'"}],"mark":{"type":"area","color":"#800080","fillOpacity":0.2,"strokeWidth":0}},
{"transform":[{"filter":"datum.m === 'DQN'"}],"mark":{"type":"area","color":"#FF0000","fillOpacity":0.2,"strokeWidth":0}},
{"mark":{"type":"line","strokeWidth":6},
"encoding":{
"y":{"field":"y","type":"quantitative"},
"y2":null,
"color":{"field":"m","type":"nominal","scale":{"domain":["PPO","CNN","LSTM","DQN"],"range":["#FFA500","#0000FF","#800080","#FF0000"]},
"legend":{"title":null,"orient":"bottom-right","offset":20,"fillColor":"#ECECF3","strokeColor":"#CCCCCC","cornerRadius":10,"padding":14,"symbolType":"M-1,0H3","symbolSize":2116,"symbolStrokeWidth":5,"labelFont":"Liberation Sans","labelFontSize":42,"labelColor":"#262626","labelOffset":78,"rowPadding":20}}}}
]
}
